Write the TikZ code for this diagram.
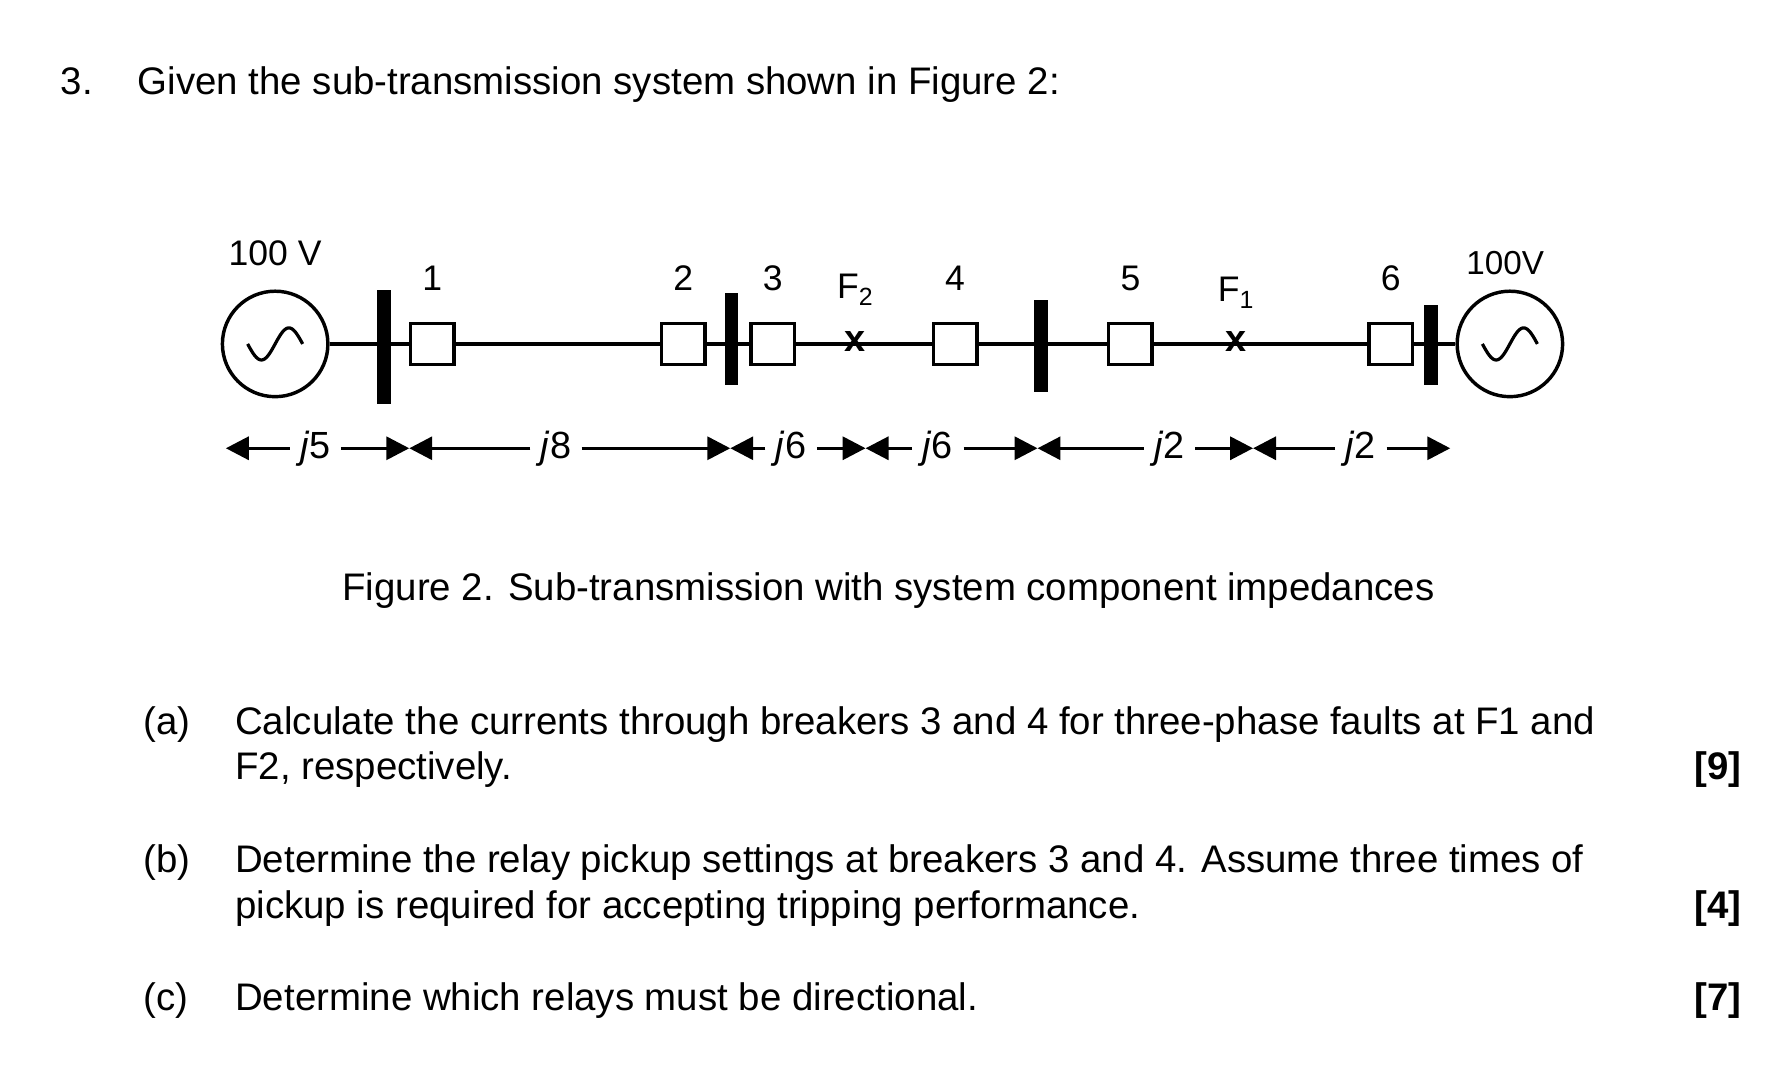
\documentclass[tikz,border=0pt]{standalone}
\usepackage{fontspec}
\setmainfont{Liberation Sans}
\usetikzlibrary{arrows.meta}
\begin{document}
\begin{tikzpicture}[x=1pt,y=-1pt,
  txt/.style={inner sep=0pt,font=\fontsize{33.5}{40}\selectfont},
  lab/.style={inner sep=0pt,font=\fontsize{31}{36}\selectfont},
  bus/.style={fill=black,draw=none,minimum width=12pt,inner sep=0pt},
  brk/.style={draw,line width=3pt,fill=white,minimum width=38pt,minimum height=36pt,inner sep=0pt},
  gen/.style={draw,line width=3pt,circle,minimum size=92pt,inner sep=0pt},
  dim/.style={line width=3pt,-{Triangle[length=20pt,width=20pt]}},
  jl/.style={inner sep=9pt,font=\fontsize{33}{38}\selectfont}]
\useasboundingbox (0,0) rectangle (1550,931);
\node[txt,anchor=base west] (q) at (53,82) {3.};
\node[txt,anchor=base west] (qt) at (120,82) {Given the sub-transmission system shown in Figure 2:};
% line
\node[gen] (g1) at (240,300) {};
\node[gen] (g2) at (1317,300) {};
\draw[line width=3pt] (g1.east) -- (g2.west);
\draw[line width=2.8pt,shift={(240,300)}] plot[domain=-24:24,samples=40,smooth] (\x,{-14*sin(\x*180/24)});
\draw[line width=2.8pt,shift={(1317,300)}] plot[domain=-24:24,samples=40,smooth] (\x,{-14*sin(\x*180/24)});
\node[bus,minimum height=99pt] (b1) at (335,302.5) {};
\node[bus,minimum height=80pt] (b2) at (638,296) {};
\node[bus,minimum height=80pt] (b3) at (908,302) {};
\node[bus,minimum height=70pt] (b4) at (1248,301) {};
\foreach \n/\x in {1/377,2/596,3/674,4/833,5/986,6/1213}{
  \node[brk] (k\n) at (\x,300) {};
  \node[lab,anchor=base] (n\n) at (\x,253) {\n};
}
\node[inner sep=0pt,font=\bfseries\fontsize{33}{38}\selectfont] (x2) at (746,298) {x};
\node[inner sep=0pt,font=\bfseries\fontsize{33}{38}\selectfont] (x1) at (1078,298) {x};
\node[lab,anchor=base] (f2) at (746,260) {F\textsubscript{2}};
\node[lab,anchor=base] (f1) at (1078,263) {F\textsubscript{1}};
\node[lab,anchor=base] (v1) at (240,232) {100 V};
\node[inner sep=0pt,font=\fontsize{29}{34}\selectfont,anchor=base] (v2) at (1313,239) {100V};
% dimensions
\foreach \i/\a/\b/\m/\t in {1/197/357/275/5,2/357/637/485/8,3/637/755/690/6,4/755/905/818/6,5/905/1093/1020/2,6/1093/1265/1187/2}{
  \coordinate (s\i) at (\a,391);
  \coordinate (e\i) at (\b,391);
  \node[jl] (j\i) at (\m,391) {\textit{j}\t};
  \draw[dim] (j\i.west) -- (s\i);
  \draw[dim] (j\i.east) -- (e\i);
}
\node[txt,anchor=base] (cap) at (775,524) {Figure 2. Sub-transmission with system component impedances};
% questions
\node[txt,anchor=base west] (pa) at (125,641) {(a)};
\node[txt,anchor=base west] (ta1) at (205,641) {Calculate the currents through breakers 3 and 4 for three-phase faults at F1 and};
\node[txt,anchor=base west] (ta2) at (205,680) {F2, respectively.};
\node[txt,anchor=base east,font=\bfseries\fontsize{33.5}{40}\selectfont] (ma) at (1519,680) {[9]};
\node[txt,anchor=base west] (pb) at (125,761) {(b)};
\node[txt,anchor=base west] (tb1) at (205,761) {Determine the relay pickup settings at breakers 3 and 4. Assume three times of};
\node[txt,anchor=base west] (tb2) at (205,801) {pickup is required for accepting tripping performance.};
\node[txt,anchor=base east,font=\bfseries\fontsize{33.5}{40}\selectfont] (mb) at (1519,801) {[4]};
\node[txt,anchor=base west] (pc) at (125,881) {(c)};
\node[txt,anchor=base west] (tc) at (205,881) {Determine which relays must be directional.};
\node[txt,anchor=base east,font=\bfseries\fontsize{33.5}{40}\selectfont] (mc) at (1519,881) {[7]};
\end{tikzpicture}
\end{document}
